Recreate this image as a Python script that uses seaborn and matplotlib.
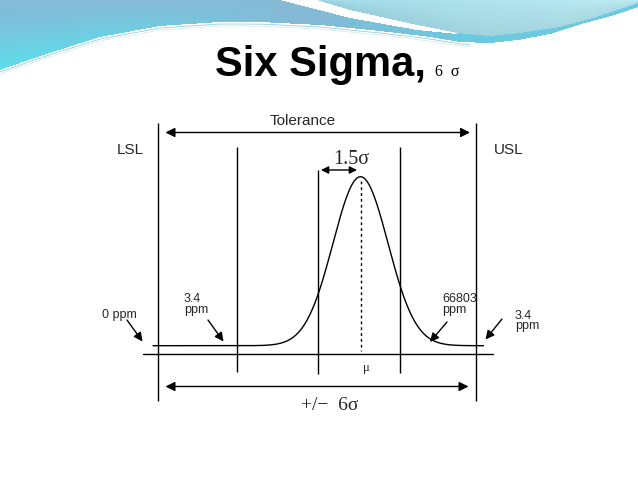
import numpy as np
import matplotlib
matplotlib.use("Agg")
import matplotlib.pyplot as plt
import seaborn as sns

# ---------------- content ----------------
title_text = "Six Sigma,"
title_sigma = "6  σ"
spec_labels = ["LSL", "USL"]
tolerance_label = "Tolerance"
shift_label = "1.5σ"
span_label = "+/−  6σ"
mean_label = "μ"
ppm_labels = ["0 ppm", "3.4\nppm", "66803\nppm", "3.4\nppm"]
shift_sigmas = 1.5          # process mean shift, in sigma
span_sigmas = 6             # spec limits at +/- 6 sigma

# ---------------- figure ----------------
W, H = 638, 479
sns.set_theme(style="white")
plt.rcParams['font.family'] = ['Liberation Sans', 'DejaVu Sans']

fig = plt.figure(figsize=(W / 100, H / 100), dpi=100)
ax = fig.add_axes([0, 0, 1, 1])
ax.set_facecolor("white")

# ---------------- banner ----------------
BH = 80
xx, yy = np.meshgrid(np.arange(W) + 0.5, np.arange(BH) + 0.5)
lower_x = [0, 40, 100, 160, 220, 260, 320, 380, 430, 460, 490, 518, 550, 585, 615, 638]
lower_y = [70, 56, 37, 26, 22, 22, 25, 31, 37, 42, 43, 40, 34, 23, 15, 7]
L = np.interp(xx, lower_x, lower_y)
up_x = [317, 350, 417, 457, 490, 520, 560, 600, 638]
up_y = [0, 10, 25, 33, 36, 33, 27, 16, 3]
U = np.where(xx < 317, -1, np.interp(xx, up_x, up_y))
lo_x = [280, 350, 417, 457]
lo_y = [0, 18, 30, 34]
Wl = np.where((xx < 280) | (xx > 457), -1, np.interp(xx, lo_x, lo_y))

inside = yy < L
maskB = inside & (yy < U)
maskW = inside & (~maskB) & (yy <= Wl)
maskA = inside & (~maskB) & (~maskW)

steel = np.array([0.52, 0.73, 0.84])
cyan = np.array([0.36, 0.87, 0.92])
teal = np.array([0.42, 0.79, 0.88])
a = np.clip(1 - xx / 300, 0, 1) * np.clip(yy / np.maximum(L, 1), 0, 1) ** 1.3
b = np.clip((xx - 320) / 140, 0, 1) * (1 - a)
colA = steel[None, None, :] * (1 - a - b)[..., None] + cyan[None, None, :] * a[..., None] \
    + teal[None, None, :] * b[..., None]
lightL = np.array([0.64, 0.86, 0.91])
lightR = np.array([0.74, 0.92, 0.95])
c = np.clip((xx - 317) / 321, 0, 1)
colB = lightL[None, None, :] * (1 - c)[..., None] + lightR[None, None, :] * c[..., None]
colB = colB - 0.06 * np.clip(yy / np.maximum(U, 1), 0, 1)[..., None]

rgba = np.zeros((BH, W, 4))
rgba[..., :3] = 1.0
rgba[maskA, :3] = colA[maskA]
rgba[maskB, :3] = colB[maskB]
rgba[..., 3] = inside.astype(float)
ax.imshow(rgba, extent=[0, W, BH, 0], interpolation="bilinear", zorder=0)

sx = np.linspace(0, 470, 200)
ax.plot(sx, np.interp(sx, lower_x, lower_y) + 2, color="#3a9fb2", lw=0.5, alpha=0.6)
ax.plot(sx, np.interp(sx, lower_x, lower_y) + 4, color="#3a9fb2", lw=0.4, alpha=0.3)

# ---------------- title ----------------
ax.text(215, 76, title_text, fontsize=30, fontweight="bold", color="black",
        ha="left", va="baseline", family=["Liberation Sans", "DejaVu Sans"])
ax.text(435, 76, title_sigma, fontsize=11.5, color="black", ha="left", va="baseline",
        family=["Liberation Serif", "DejaVu Serif"])

# ---------------- diagram geometry (pixels) ----------------
lw = 1.0
center_x = 318
sigma_px = (476 - 157.5) / (2 * span_sigmas)
curve_sigma = 27.5
mean_x = 360.5
base_y = 345.7
peak_h = 169.0

def vline(x, y0, y1, **kw):
    ax.plot([x, x], [y0, y1], color="black", lw=lw, solid_capstyle="butt", **kw)

# spec limits
vline(157.5, 123, 401)
vline(476, 123, 401)
# +/-3 sigma lines
vline(237, 147, 372)
vline(400, 147, 373)
# target (center) line
vline(center_x, 170, 374)
# horizontal axis
ax.plot([143, 493], [354.3, 354.3], color="black", lw=lw)

# bell curve (normal density, mean shifted by 1.5 sigma)
cx = np.linspace(153, 483.5, 700)
cy = base_y - peak_h * np.exp(-0.5 * ((cx - mean_x) / curve_sigma) ** 2)
sns.lineplot(x=cx, y=cy, ax=ax, color="black", linewidth=lw, sort=False)

# mean dotted line
ax.plot([mean_x, mean_x], [181, 351], color="black", lw=1.0, linestyle=(0, (2, 2.2)))

# arrows
def arrow(x0, y0, x1, y1, style="-|>", ms=13, lwa=1.0):
    ax.annotate("", xy=(x1, y1), xytext=(x0, y0),
                arrowprops=dict(arrowstyle=style, color="black", lw=lwa,
                                mutation_scale=ms, shrinkA=0, shrinkB=0))

arrow(165.5, 132.5, 470, 132.5, style="<|-|>", ms=14)
arrow(165.5, 386.5, 468.5, 386.5, style="<|-|>", ms=14)
arrow(321, 170, 357, 170, style="<|-|>", ms=11)

arrow(127, 320, 142.5, 341.5)
arrow(208, 320, 223.5, 341.5)
arrow(447, 322, 430, 342)
arrow(502, 319, 485.5, 339.5)

# ---------------- labels ----------------
sans = ["Liberation Sans", "DejaVu Sans"]
serif = ["Liberation Serif", "DejaVu Serif"]
ax.text(117, 154, spec_labels[0], fontsize=11, family=sans, ha="left", va="baseline")
ax.text(494, 154, spec_labels[1], fontsize=11, family=sans, ha="left", va="baseline")
ax.text(302.5, 125, tolerance_label, fontsize=11, family=sans, ha="center", va="baseline")
ax.text(351, 164, shift_label, fontsize=14.5, family=serif, ha="center", va="baseline")
ax.text(330, 410, span_label, fontsize=14, family=serif, ha="center", va="baseline")
ax.text(366.5, 371, mean_label, fontsize=9, family=serif, ha="center", va="baseline")

ppm_pos = [(102, 318), (184, 302), (442, 302.5), (515, 319)]
for lab, (px, py) in zip(ppm_labels, ppm_pos):
    lines = lab.split("\n")
    for i, ln in enumerate(lines):
        ax.text(px, py + 10.5 * i, ln, fontsize=9, family=sans, ha="left", va="baseline")

ax.set_xlim(0, W)
ax.set_ylim(H, 0)
ax.set_aspect("auto")
ax.axis("off")

fig.savefig("out.png", dpi=100, facecolor="white")
